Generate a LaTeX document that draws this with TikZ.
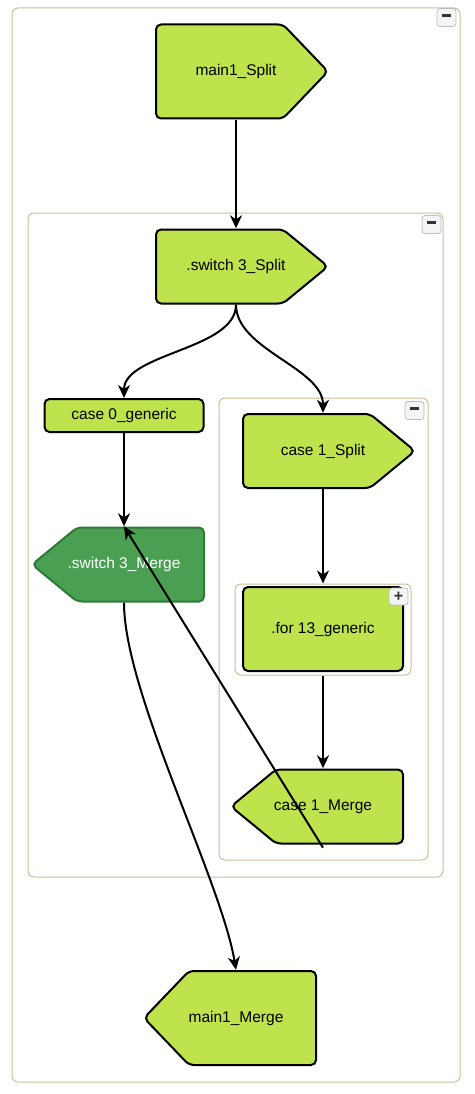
\documentclass[tikz,border=0pt]{standalone}
\usepackage{fontspec}
\setmainfont{Liberation Sans}
\usetikzlibrary{arrows.meta, positioning, fit}
\usepackage{xcolor}
\definecolor{Lime}{HTML}{BEE34C}
\definecolor{SwGreen}{HTML}{4A9F52}
\definecolor{SwEdge}{HTML}{2F7A37}
\definecolor{Frame}{HTML}{CBBE93}
\definecolor{BtnFill}{HTML}{F4F4F4}
\definecolor{BtnEdge}{HTML}{BDBDBD}
\definecolor{Glyph}{HTML}{333333}
\tikzset{
  shp/.style={line width=2pt, draw=black, fill=Lime, rounded corners=5pt},
  spbox/.style={minimum width=186pt, minimum height=76pt, inner sep=0pt,
    font=\fontsize{15.5}{18}\selectfont,
    path picture={\draw[shp]
      ([shift={(13pt,-1pt)}]path picture bounding box.north west)
      -- ([shift={(-46pt,-1pt)}]path picture bounding box.north east)
      -- ([shift={(-1pt,0pt)}]path picture bounding box.east)
      -- ([shift={(-46pt,1pt)}]path picture bounding box.south east)
      -- ([shift={(13pt,1pt)}]path picture bounding box.south west) -- cycle;}},
  mgbox/.style={minimum width=186pt, minimum height=76pt, inner sep=0pt,
    font=\fontsize{15.5}{18}\selectfont,
    path picture={\draw[shp]
      ([shift={(-13pt,-1pt)}]path picture bounding box.north east)
      -- ([shift={(46pt,-1pt)}]path picture bounding box.north west)
      -- ([shift={(1pt,0pt)}]path picture bounding box.west)
      -- ([shift={(46pt,1pt)}]path picture bounding box.south west)
      -- ([shift={(-13pt,1pt)}]path picture bounding box.south east) -- cycle;}},
  tall/.style={minimum height=96pt},
  dark/.style={text=white, shp/.append style={fill=SwGreen, draw=SwEdge}},
  gnbox/.style={draw=black, line width=2pt, fill=Lime, rounded corners=5pt,
    inner sep=0pt, font=\fontsize{15.5}{18}\selectfont},
  grp/.style={draw=Frame, line width=1pt, rounded corners=6pt, inner sep=0pt},
  btn/.style={draw=BtnEdge, fill=BtnFill, line width=0.8pt, rounded corners=3pt,
    minimum width=19pt, minimum height=18pt, inner sep=0pt, text=Glyph,
    font=\fontsize{16}{16}\selectfont\bfseries},
  flow/.style={-{Stealth[length=13pt, width=12pt, inset=4pt]}, line width=2pt, draw=black},
}
\newcommand{\minusglyph}{\rule[0.25em]{9pt}{2.8pt}}

\begin{document}
\begin{tikzpicture}[x=1pt, y=-1pt]
    \useasboundingbox (0,0) rectangle (474,1094);
    \node[grp, fit={(12,8) (460,1082)}] (gmain) {};
    \node[grp, fit={(28,213) (443,877)}] (gsw) {};
    \node[grp, fit={(219,398) (428,860)}] (gcase) {};
    \node[grp, fit={(235,584) (411,675)}] (gfor) {};
    \node[btn] (bmain) at ([shift={(-14pt,-10pt)}]gmain.north east) {\minusglyph};
    \node[btn] (bsw) at ([shift={(-12pt,-12pt)}]gsw.north east) {\minusglyph};
    \node[btn] (bcase) at ([shift={(-14pt,-13pt)}]gcase.north east) {\minusglyph};

    \node[spbox, tall] (ms) at (236,71.5) {main1\_Split};
    \node[spbox] (ss) at (236,266.5) {.switch 3\_Split};
    \node[gnbox, minimum width=159pt, minimum height=33pt] (c0) at (124,415.5) {case 0\_generic};
    \node[spbox] (cs) at (323,451) {case 1\_Split};
    \node[gnbox, minimum width=160pt, minimum height=84pt] (fg) at (323,629) {.for 13\_generic};
    \node[btn, minimum height=17pt] (bfor) at ([shift={(-13pt,-13pt)}]gfor.north east) {+};
    \node[mgbox] (cm) at (323,806.5) {case 1\_Merge};
    \node[mgbox, dark] (sm) at (124,564.5) {.switch 3\_Merge};
    \node[mgbox, tall] (mm) at (236,1018) {main1\_Merge};

    \draw[flow] (ms) -- (ss);
    \draw[flow] (ss.south) .. controls +(0,45) and +(0,-45) .. (c0.north);
    \draw[flow] (ss.south) .. controls +(0,45) and +(0,-45) .. (cs.north);
    \draw[flow] (c0) -- (sm);
    \draw[flow] (cs) -- (gfor);
    \draw[flow] (gfor) -- (cm);
    \draw[flow] ([yshift=-3pt]cm.south) -- (sm.north);
    \draw[flow] (sm.south) .. controls +(0,90) and +(-15,-90) .. (mm.north);
  \end{tikzpicture}
\end{document}
